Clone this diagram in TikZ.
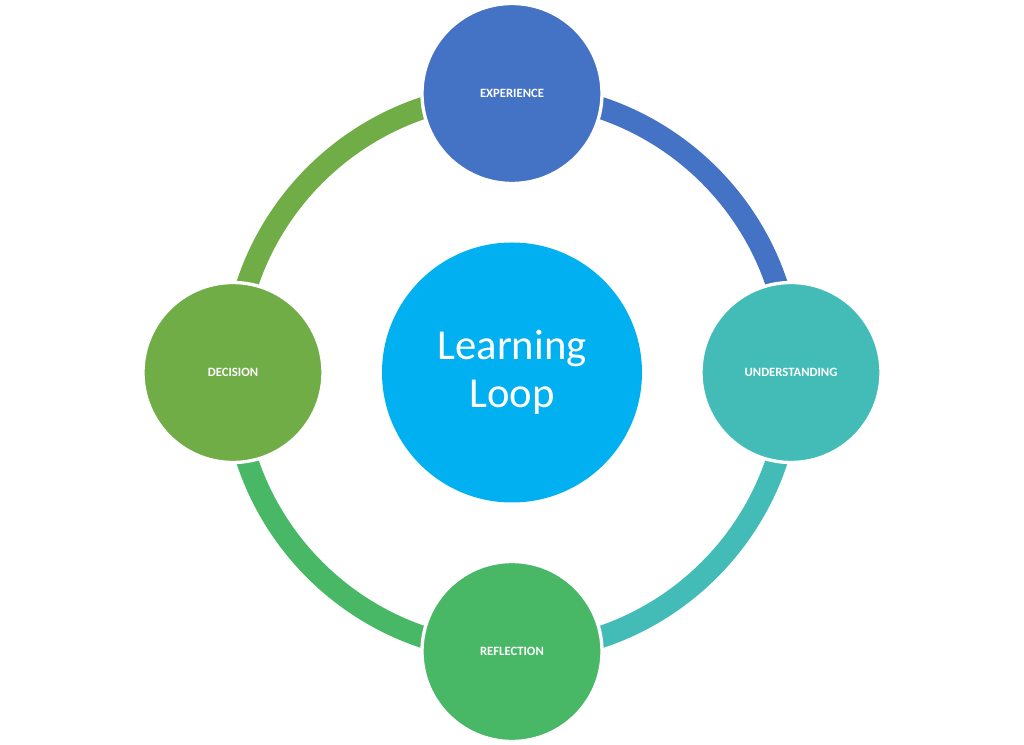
\documentclass[tikz,border=0pt]{standalone}
\usepackage{fontspec}
\setmainfont{Carlito}
\usetikzlibrary{positioning}
\definecolor{cExp}{HTML}{4472C4}
\definecolor{cUnd}{HTML}{43BCB8}
\definecolor{cRef}{HTML}{48B866}
\definecolor{cDec}{HTML}{70AD47}
\definecolor{cMid}{HTML}{00B0F0}
\begin{document}
\begin{tikzpicture}[x=0.75pt, y=0.75pt,
  stage/.style={circle, draw=white, line width=2.5pt, minimum size=135pt,
    text=white, font=\bfseries\fontsize{9.5}{11}\selectfont, inner sep=0pt},
  ring/.style={line width=16.5pt}]
  \useasboundingbox (-512,-372.5) rectangle (512,372.5);
  \def\R{279} % ring radius
  % Ring segments
  \draw[ring, cExp] (90:\R) arc (90:0:\R);
  \draw[ring, cUnd] (0:\R) arc (0:-90:\R);
  \draw[ring, cRef] (-90:\R) arc (-90:-180:\R);
  \draw[ring, cDec] (180:\R) arc (180:90:\R);
  % Centre
  \node[circle, fill=cMid, minimum size=195pt, text=white, align=center,
    font=\fontsize{32}{36}\selectfont] (loop) at (0,0) {Learning\\Loop};
  % Stages
  \node[stage, fill=cExp] (exp) at (90:\R) {EXPERIENCE};
  \node[stage, fill=cUnd] (und) at (0:\R) {UNDERSTANDING};
  \node[stage, fill=cRef] (ref) at (-90:\R) {REFLECTION};
  \node[stage, fill=cDec] (dec) at (180:\R) {DECISION};
\end{tikzpicture}
\end{document}
